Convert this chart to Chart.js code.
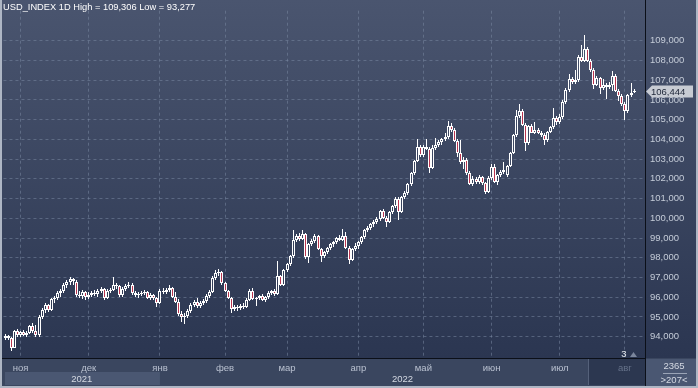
<!DOCTYPE html>
<html>
<head>
<meta charset="utf-8">
<script src="https://cdn.jsdelivr.net/npm/chart.js@4.4.0/dist/chart.umd.min.js"></script>
<style>
	html, body { margin: 0; padding: 0; background: #2b3651; overflow: hidden; }
	#chart { display: block; }
</style>
</head>
<body>
<canvas id="chart" width="698" height="388"></canvas>
<script>
// categories: trading days per month (first month starts mid-October)
const monthNames = ['окт', 'ноя', 'дек', 'янв', 'фев', 'мар', 'апр', 'май', 'июн', 'июл', 'авг'];
const barsPerMonth = [5, 22, 23, 21, 20, 23, 21, 22, 22, 21, 4];
const emptySlots = 3;
const yearLabels = ['2021', '2022'];
const priceTicks = [94, 95, 96, 97, 98, 99, 100, 101, 102, 103, 104, 105, 106, 107, 108, 109];

// daily candles
const opens = [
	93.95,94.05,93.95,93.45,94.3,94.1,94.25,94.1,94.2,94.55,94.3,94.1,95.0,95.35,95.6,95.35,95.9,95.95,96.2,96.3,96.6,96.75,96.9,96.75,96.1,96.05,96.25,
	96.0,96.1,96.2,96.15,96.3,96.4,95.95,96.3,96.35,96.6,96.55,96.1,96.4,96.55,96.6,96.2,96.1,96.15,96.2,96.25,95.95,96.1,95.95,
	95.7,96.3,96.25,96.35,96.45,96.0,95.75,95.15,95.0,95.05,95.3,95.6,95.75,95.55,95.7,95.8,96.05,96.25,96.95,97.25,97.3,
	96.7,96.3,95.95,95.4,95.5,95.45,95.55,95.5,95.85,96.3,95.9,95.95,96.05,95.85,96.0,96.2,96.3,96.15,97.05,96.6,
	97.4,97.7,98.1,98.9,99.1,98.95,99.2,98.05,98.7,98.85,99.1,98.45,98.1,98.3,98.5,98.7,98.8,99.0,98.9,99.1,98.5,97.9,98.45,
	98.6,98.8,99.05,99.4,99.5,99.7,99.8,99.95,100.35,100.0,99.8,100.3,100.6,101.0,100.3,101.1,101.3,101.75,102.3,102.9,103.6,
	103.2,103.6,103.5,102.55,103.55,103.7,103.85,104.0,104.1,104.7,104.5,103.9,103.3,102.85,102.95,102.3,101.75,102.0,101.85,102.1,101.8,101.35,
	102.05,102.6,101.85,102.2,102.35,102.2,102.65,103.3,104.2,105.2,105.45,104.75,103.8,104.7,104.35,104.5,104.3,104.2,103.95,104.4,104.65,105.1,
	104.9,105.15,105.9,106.5,107.05,106.9,107.0,108.2,108.0,108.6,107.95,107.5,106.75,107.1,106.6,106.75,106.65,106.75,107.2,106.45,106.2,
	105.8,105.45,106.25,106.4
];
const highs = [
	94.15,94.1,94.0,94.35,94.4,94.3,94.35,94.3,94.6,94.7,94.6,95.1,95.45,95.7,95.65,95.95,96.05,96.3,96.4,96.7,96.85,97.0,96.95,96.85,96.3,96.35,96.3,
	96.25,96.3,96.35,96.4,96.5,96.45,96.4,96.45,97.0,96.7,96.6,96.5,96.65,96.75,96.7,96.3,96.25,96.3,96.35,96.3,96.2,96.15,96.0,
	96.4,96.45,96.45,96.6,96.5,96.25,95.9,95.3,95.2,95.4,95.7,95.85,95.95,95.8,95.9,96.15,96.35,97.05,97.4,97.45,97.35,
	96.75,96.35,96.0,95.6,95.6,95.65,95.7,95.95,96.4,96.45,96.0,96.1,96.15,96.05,96.3,96.35,96.4,97.85,97.15,97.45,
	97.75,98.15,99.4,99.2,99.25,99.4,99.25,98.75,98.95,99.2,99.15,98.5,98.35,98.55,98.75,98.85,99.05,99.15,99.45,99.3,98.6,98.5,98.75,
	98.85,99.1,99.45,99.6,99.75,99.9,100.05,100.4,100.45,100.1,100.35,100.65,101.1,101.1,101.15,101.4,101.8,102.35,102.95,104.0,103.7,
	103.7,104.0,103.6,103.7,104.05,103.95,104.05,104.3,104.95,104.85,104.6,104.0,103.95,103.1,103.05,102.4,102.15,102.1,102.2,102.15,101.85,102.15,
	102.75,102.75,102.25,102.45,102.85,102.7,103.35,104.25,105.5,105.8,105.55,104.85,104.75,104.8,104.9,104.6,104.45,104.3,104.45,104.7,105.6,105.2,
	105.3,106.0,106.6,107.3,107.15,107.5,108.3,108.8,109.306,108.7,108.1,107.6,107.2,107.15,107.05,106.85,106.9,107.45,107.3,106.55,106.3,
	105.9,106.3,106.85,106.55
];
const lows = [
	93.85,93.85,93.277,93.4,94.0,94.0,94.05,94.0,94.15,94.2,94.0,94.0,94.9,95.2,95.25,95.3,95.7,95.85,96.0,96.2,96.45,96.6,96.6,96.0,95.95,95.9,95.85,
	95.9,96.0,96.05,96.0,96.2,95.85,95.9,96.2,96.3,96.4,96.0,96.0,96.3,96.45,96.1,96.0,95.95,96.05,96.1,95.9,95.85,95.85,95.5,
	95.65,96.15,96.15,96.25,95.95,95.7,95.05,94.75,94.65,94.95,95.2,95.5,95.45,95.45,95.6,95.7,95.95,96.2,96.85,97.05,96.6,
	96.25,95.9,95.2,95.3,95.3,95.35,95.4,95.45,95.8,95.85,95.55,95.85,95.8,95.75,95.9,96.1,96.05,96.1,96.55,96.55,
	97.3,97.6,98.0,98.8,98.85,98.9,97.95,97.75,98.6,98.75,98.4,97.8,98.0,98.2,98.4,98.55,98.7,98.85,98.85,98.45,97.7,97.85,98.35,
	98.45,98.7,98.95,99.3,99.4,99.55,99.7,99.85,99.95,99.55,99.75,100.2,100.5,99.9,100.25,101.0,101.2,101.65,102.2,102.85,103.1,
	103.1,103.45,102.3,102.5,103.45,103.6,103.7,103.9,104.0,104.4,103.85,103.1,102.75,102.5,102.2,101.7,101.65,101.75,101.75,101.7,101.25,101.3,
	101.95,101.8,101.7,102.1,102.25,102.1,102.6,103.25,104.1,105.1,104.7,103.4,103.7,104.3,104.25,104.25,104.1,103.7,103.85,104.3,104.55,104.75,
	104.8,105.05,105.8,106.4,106.8,106.8,106.9,107.9,107.9,107.9,107.4,106.55,106.7,106.3,106.5,106.05,106.55,106.45,106.4,105.95,105.7,
	105.0,105.35,106.15,106.35
];
const closes = [
	94.05,93.95,93.45,94.3,94.1,94.25,94.1,94.2,94.55,94.3,94.1,95.0,95.35,95.6,95.35,95.9,95.95,96.2,96.3,96.6,96.75,96.9,96.8,96.1,96.05,96.25,96.0,
	96.1,96.2,96.15,96.3,96.4,95.95,96.3,96.35,96.6,96.55,96.1,96.4,96.55,96.6,96.2,96.1,96.15,96.2,96.25,95.95,96.1,95.95,95.7,
	96.3,96.25,96.35,96.45,96.0,95.75,95.15,95.0,95.05,95.3,95.6,95.75,95.55,95.7,95.8,96.05,96.25,96.95,97.25,97.3,96.7,
	96.3,95.95,95.4,95.5,95.45,95.55,95.5,95.85,96.3,95.9,95.95,96.05,95.85,96.0,96.2,96.3,96.15,97.05,96.6,97.4,
	97.7,98.1,98.9,99.1,98.95,99.2,98.05,98.7,98.85,99.1,98.45,98.1,98.3,98.5,98.7,98.8,99.0,98.9,99.1,98.5,97.9,98.45,98.6,
	98.8,99.05,99.4,99.5,99.7,99.8,99.95,100.35,100.0,99.8,100.3,100.6,101.0,100.3,101.1,101.3,101.75,102.3,102.9,103.6,103.2,
	103.6,103.5,102.55,103.55,103.7,103.85,104.0,104.1,104.7,104.5,103.9,103.3,102.85,102.95,102.3,101.75,102.0,101.85,102.1,101.8,101.35,102.05,
	102.6,101.85,102.2,102.35,102.45,102.65,103.3,104.2,105.2,105.45,104.75,103.8,104.7,104.35,104.5,104.3,104.2,103.95,104.4,104.65,105.1,104.9,
	105.15,105.9,106.5,107.05,106.9,107.0,108.2,108.0,108.6,107.95,107.5,106.75,107.1,106.6,106.75,106.65,106.75,107.2,106.45,106.2,105.8,
	105.45,106.25,106.35,106.444
];

const labels = [];
monthNames.forEach((name, m) => {
	for (let k = 0; k < barsPerMonth[m]; k++) labels.push(k === 0 && m > 0 ? name : '');
});
for (let k = 0; k < emptySlots; k++) labels.push('');

const bodies = opens.map((o, i) => [Math.min(o, closes[i]), Math.max(o, closes[i])]);
const wicks = lows.map((l, i) => [l, highs[i]]);

const fmt = v => v.toFixed(3).replace('.', ',');
const FONT = 'Liberation Sans, Arial, sans-serif';
const GRID = 'rgba(120,134,160,0.55)';
const RED = '#b8344f';
const PLOT_BOTTOM_PX = 358;

let plotFill = null;
function plotGradient(ctx) {
	if (!plotFill) {
		plotFill = ctx.createLinearGradient(0, 0, 0, PLOT_BOTTOM_PX);
		plotFill.addColorStop(0, '#4a556f');
		plotFill.addColorStop(1, '#2b3651');
	}
	return plotFill;
}

// snap candle elements to whole pixels so the thin outlines stay crisp
const pixelSnap = {
	id: 'pixelSnap',
	beforeDatasetsDraw(chart) {
		chart.data.datasets.forEach((ds, di) => {
			chart.getDatasetMeta(di).data.forEach(el => {
				el.x = Math.floor(el.x) + 0.5;
				el.y = Math.round(el.y);
				el.base = Math.round(el.base);
				if (Math.abs(el.base - el.y) < 1) el.base = el.y + 1;
			});
		});
	}
};

const backdrop = {
	id: 'backdrop',
	beforeDraw(chart) {
		const { ctx, chartArea: a, width, height } = chart;
		const x = chart.scales.x;
		ctx.save();
		ctx.fillStyle = plotGradient(ctx);
		ctx.fillRect(0, 0, width, a.bottom);
		ctx.fillStyle = '#3a465f';
		ctx.fillRect(0, a.bottom, width, height - a.bottom);
		// year band for 2021
		const janX = x.getPixelForTick(labels.indexOf('янв'));
		ctx.fillStyle = '#4a5772';
		ctx.fillRect(5, 372, janX - 5, 13);
		// current month box
		ctx.fillStyle = '#2c3750';
		ctx.fillRect(588, a.bottom + 1, a.right - 588, 26);
		ctx.fillStyle = '#55617a';
		ctx.fillRect(588, a.bottom + 1, 1, 26);
		// corner box
		ctx.fillStyle = '#4a5772';
		ctx.fillRect(a.right + 1, a.bottom + 1, width - a.right - 1, height - a.bottom - 1);
		ctx.restore();
	}
};

const overlay = {
	id: 'overlay',
	afterDraw(chart) {
		const { ctx, chartArea: a, width, height } = chart;
		const x = chart.scales.x, y = chart.scales.y;
		ctx.save();
		// separators
		ctx.fillStyle = '#0b0f18';
		ctx.fillRect(0, a.bottom, a.right + 1, 1);
		ctx.fillRect(a.right, 0, 1, height);
		// outer frame
		ctx.fillStyle = '#aeb6c4';
		ctx.fillRect(0, 0, 2, height);
		ctx.fillRect(width - 2, 0, 2, height);
		ctx.fillRect(0, height - 2, width, 2);

		// title
		ctx.font = '9.3px ' + FONT;
		ctx.fillStyle = '#ffffff';
		ctx.textBaseline = 'top';
		ctx.textAlign = 'left';
		ctx.fillText('USD_INDEX 1D High = ' + fmt(Math.max(...highs)) + ' Low = ' + fmt(Math.min(...lows)), 3, 3);

		// years
		ctx.textAlign = 'center';
		ctx.textBaseline = 'middle';
		ctx.fillStyle = '#d4d9e2';
		ctx.font = '9.5px ' + FONT;
		const janX = x.getPixelForTick(labels.indexOf('янв'));
		ctx.fillText(yearLabels[0], (a.left + janX) / 2, 379);
		ctx.fillText(yearLabels[1], (janX + a.right) / 2, 379);

		// corner box text
		ctx.fillText('2365', 674, 366);
		ctx.fillStyle = '#9aa4b6';
		ctx.fillRect(663, 373, 24, 1);
		ctx.fillStyle = '#d4d9e2';
		ctx.fillText('>207<', 674, 380);

		// marker near bottom right
		ctx.fillStyle = '#e6e9ee';
		ctx.fillText('3', 624, 354);
		ctx.fillStyle = '#7b869c';
		ctx.beginPath();
		ctx.moveTo(630, 357); ctx.lineTo(637, 357); ctx.lineTo(633.5, 352); ctx.closePath();
		ctx.fill();

		// last price tag
		const last = closes[closes.length - 1];
		const py = Math.round(y.getPixelForValue(last)) + 0.5;
		ctx.fillStyle = '#c7cbd3';
		ctx.beginPath();
		ctx.moveTo(a.right + 1, py);
		ctx.lineTo(a.right + 7, py - 6);
		ctx.lineTo(693, py - 6);
		ctx.lineTo(693, py + 6);
		ctx.lineTo(a.right + 7, py + 6);
		ctx.closePath();
		ctx.fill();
		ctx.fillStyle = '#1c2436';
		ctx.textAlign = 'left';
		ctx.font = '9.5px ' + FONT;
		ctx.fillText(fmt(last), 651, py + 0.5);
		ctx.restore();
	}
};

new Chart(document.getElementById('chart'), {
	type: 'bar',
	data: {
		labels: labels,
		datasets: [{
			label: 'body',
			data: bodies,
			backgroundColor: c => closes[c.dataIndex] < opens[c.dataIndex] ? RED : plotGradient(c.chart.ctx),
			borderColor: '#ffffff',
			borderWidth: 1,
			borderSkipped: false,
			barThickness: 3,
			inflateAmount: 0,
			grouped: false
		}, {
			label: 'wick',
			data: wicks,
			backgroundColor: '#ffffff',
			borderWidth: 0,
			barThickness: 1,
			inflateAmount: 0,
			grouped: false
		}]
	},
	options: {
		responsive: false,
		animation: false,
		devicePixelRatio: 1,
		layout: { padding: { left: 2, top: 0, right: 0, bottom: 0 } },
		plugins: { legend: { display: false }, tooltip: { enabled: false } },
		scales: {
			x: {
				offset: true,
				grid: {
					offset: false,
					drawTicks: false,
					color: c => (c.index !== undefined && labels[c.index]) ? GRID : 'rgba(0,0,0,0)'
				},
				border: { display: false, dash: [3, 3] },
				ticks: {
					autoSkip: false,
					maxRotation: 0,
					padding: 5,
					font: { family: FONT, size: 9.5 },
					color: c => labels[c.index] === 'авг' ? '#66728a' : '#b9c1d0'
				},
				afterFit: s => { s.height = 30; }
			},
			y: {
				position: 'right',
				min: 92.918,
				max: 110.525,
				afterBuildTicks: s => { s.ticks = priceTicks.map(v => ({ value: v })); },
				grid: { color: GRID, drawTicks: false },
				border: { display: false, dash: [3, 3] },
				ticks: {
					padding: 5,
					font: { family: FONT, size: 9.5 },
					color: '#c5ccd8',
					callback: v => fmt(v)
				},
				afterFit: s => { s.width = 53; }
			}
		}
	},
	plugins: [backdrop, pixelSnap, overlay]
});
</script>
</body>
</html>
